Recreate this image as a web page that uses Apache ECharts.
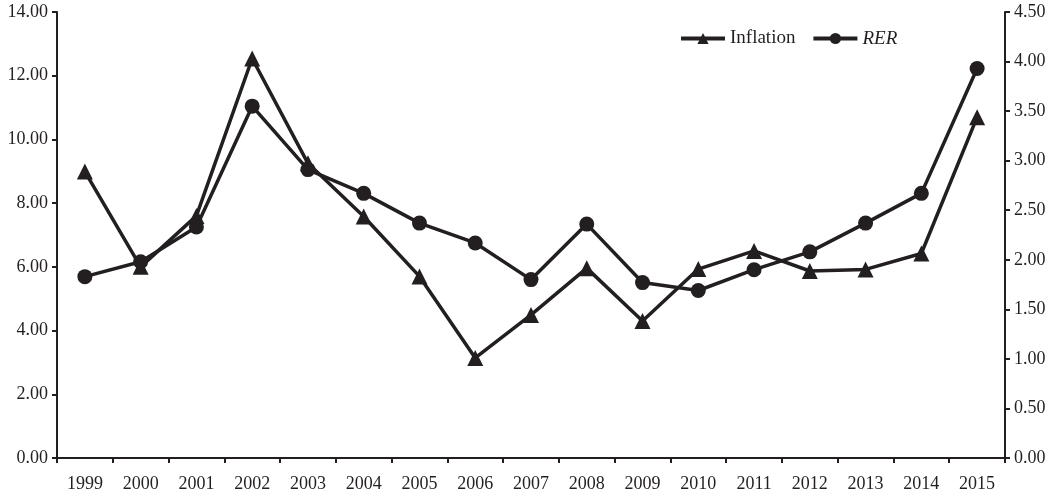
<!DOCTYPE html>
<html>
<head>
<meta charset="utf-8">
<script src="https://cdn.jsdelivr.net/npm/echarts@6/dist/echarts.min.js"></script>
<style>
  html, body { margin: 0; padding: 0; background: #fff; }
  #chart { width: 1059px; height: 499px; }
</style>
</head>
<body>
<div id="chart"></div>
<script>
var years = ["1999", "2000", "2001", "2002", "2003", "2004", "2005", "2006", "2007",
  "2008", "2009", "2010", "2011", "2012", "2013", "2014", "2015"];
var inflation = [8.99, 6.0, 7.6, 12.54, 9.25, 7.58, 5.7, 3.14, 4.49, 5.96, 4.3, 5.93, 6.5, 5.87, 5.92, 6.42, 10.7];
var rer = [1.83, 1.98, 2.33, 3.55, 2.91, 2.67, 2.37, 2.17, 1.8, 2.36, 1.77, 1.69, 1.9, 2.08, 2.37, 2.67, 3.93];

var ink = "#231f20";
var font = "Liberation Serif";

var myChart = echarts.init(document.getElementById("chart"));

function valueAxis(max, interval, pos) {
  return {
    type: "value",
    position: pos,
    min: 0,
    max: max,
    interval: interval,
    splitLine: { show: false },
    axisLine: { show: true, lineStyle: { color: ink, width: 2 } },
    axisTick: { show: true, length: 5, lineStyle: { color: ink, width: 2 } },
    axisLabel: {
      color: ink, fontFamily: font, fontSize: 18, margin: 9,
      formatter: function (v) { return v.toFixed(2); }
    }
  };
}

var option = {
  backgroundColor: "#fff",
  animation: false,
  grid: { left: 57, right: 54, top: 12, bottom: 41 },
  legend: {
    left: 674,
    top: 24,
    itemWidth: 44,
    itemHeight: 14,
    itemGap: 16,
    data: ["Inflation", "RER"],
    lineStyle: { width: 4 },
    textStyle: {
      color: ink, fontFamily: font, fontSize: 19,
      rich: { i: { fontStyle: "italic", fontFamily: font, fontSize: 19, color: ink } }
    },
    formatter: function (name) { return name === "RER" ? "{i|RER}" : name; }
  },
  xAxis: {
    type: "category",
    data: years,
    boundaryGap: true,
    axisLine: { lineStyle: { color: ink, width: 2 } },
    axisTick: { show: true, interval: 0, length: 5, lineStyle: { color: ink, width: 2 } },
    axisLabel: { color: ink, fontFamily: font, fontSize: 18, margin: 17, interval: 0 }
  },
  yAxis: [valueAxis(14, 2, "left"), valueAxis(4.5, 0.5, "right")],
  series: [
    {
      name: "Inflation",
      type: "line",
      yAxisIndex: 0,
      data: inflation,
      symbol: "triangle",
      symbolSize: 16,
      lineStyle: { color: ink, width: 3.5 },
      itemStyle: { color: ink }
    },
    {
      name: "RER",
      type: "line",
      yAxisIndex: 1,
      data: rer,
      symbol: "circle",
      symbolSize: 15,
      lineStyle: { color: ink, width: 3.5 },
      itemStyle: { color: ink }
    }
  ]
};

myChart.setOption(option);
</script>
</body>
</html>
